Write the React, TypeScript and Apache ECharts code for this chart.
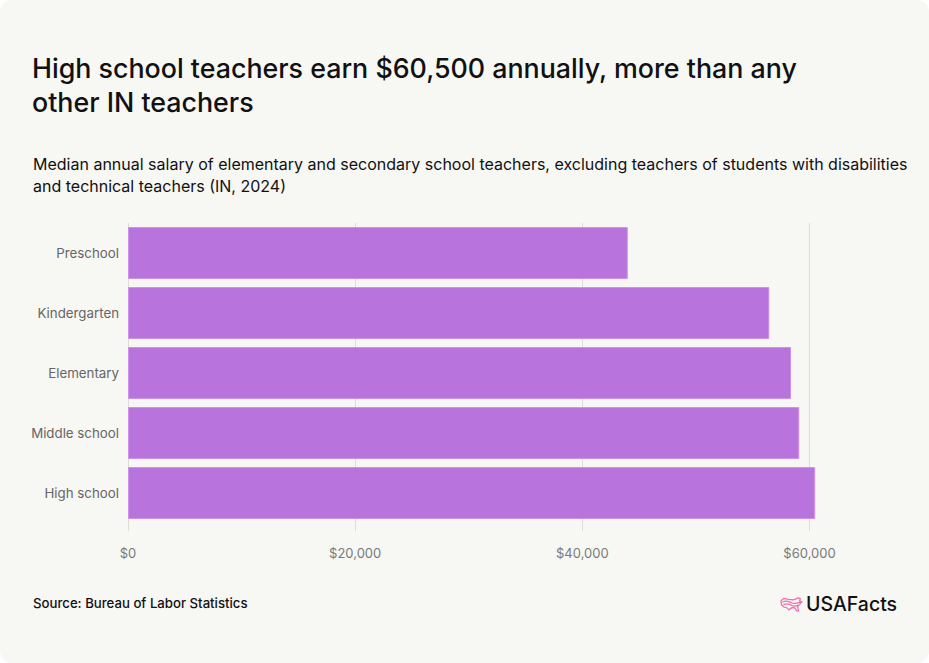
import React, { useEffect, useRef } from "react";
import * as echarts from "echarts";

const categories = ["Preschool", "Kindergarten", "Elementary", "Middle school", "High school"];
const salaries = [44000, 56460, 58370, 59100, 60500];
const xTicks = [0, 20000, 40000, 60000];

const TITLE = "High school teachers earn $60,500 annually, more than any\nother IN teachers";
const SUBTITLE =
  "Median annual salary of elementary and secondary school teachers, excluding teachers of students with disabilities\nand technical teachers (IN, 2024)";
const SOURCE = "Source: Bureau of Labor Statistics";

const LOGO_D =
  "M1 4 L4 1.5 L9 2.5 L14 3 L17 2 L19 0.8 L21.5 2 L20.5 4 L23 5 L20.5 8 L18.5 10 L19.5 14.5 L17.5 14.5 L15.5 11.5 L12.5 11.2 L9.5 13.5 L7.5 11.5 L4 10.5 L1.5 8 Z " +
  "M2.5 5.5 C6 3.5 9 4 12 6 C15 8 18 6 21.5 5.5 " +
  "M3.5 8.2 C7 6.5 10 7 12.5 9 C14.5 10.5 17 9.5 19.5 8.5";

echarts.graphic.registerShape("usaLogo", echarts.graphic.extendPath(LOGO_D, {}));

const fmt = (v: number) => "$" + v.toLocaleString("en-US");

export default function App() {
  const ref = useRef<HTMLDivElement>(null);
  useEffect(() => {
    document.body.style.margin = "0";
    const chart = echarts.init(ref.current!, null, { renderer: "svg" });
    const font = "Inter, 'Noto Sans', sans-serif";
    chart.setOption({
      animation: false,
      textStyle: { fontFamily: font },
      grid: { left: 128, top: 223, width: 681.5, height: 300, containLabel: false },
      xAxis: {
        type: "value",
        min: 0,
        max: 60000,
        interval: 20000,
        axisLine: { show: false },
        axisTick: { show: true, length: 8, lineStyle: { color: "#dcdcd8", width: 1 } },
        splitLine: { show: true, lineStyle: { color: "#dcdcd8", width: 1 } },
        axisLabel: {
          margin: 23,
          color: "#7a7a7a",
          fontSize: 13,
          fontFamily: font,
          formatter: (v: number) => (xTicks.includes(v) ? fmt(v) : ""),
        },
      },
      yAxis: {
        type: "category",
        data: categories,
        inverse: true,
        axisLine: { show: false },
        axisTick: { show: false },
        splitLine: { show: false },
        axisLabel: { margin: 9, color: "#666666", fontSize: 13.3, fontFamily: font },
      },
      series: [
        {
          type: "bar",
          data: salaries,
          barWidth: 52,
          clip: false,
          itemStyle: { color: "#b973dc", borderColor: "#cc92e8", borderWidth: 1 },
        },
      ],
      graphic: [
        {
          type: "text",
          left: 32,
          top: 51,
          style: {
            text: TITLE,
            font: `500 26.8px ${font}`,
            lineHeight: 34,
            fill: "#111111",
          },
        },
        {
          type: "text",
          left: 33,
          top: 153,
          style: {
            text: SUBTITLE,
            font: `400 16px ${font}`,
            lineHeight: 22,
            fill: "#111111",
          },
        },
        {
          type: "text",
          left: 33,
          top: 596,
          style: { text: SOURCE, font: `500 13.2px ${font}`, fill: "#111111" },
        },
        {
          type: "usaLogo",
          x: 780,
          y: 597,
          scaleX: 0.95,
          scaleY: 0.95,
          style: { fill: "none", stroke: "#ee6fb0", lineWidth: 1.3 },
        },
        {
          type: "text",
          left: 806,
          top: 594,
          style: { text: "USAFacts", font: `500 19.5px ${font}`, fill: "#111111" },
        },
      ],
    });
    return () => chart.dispose();
  }, []);
  return (
    <div
      style={{
        width: 929,
        height: 663,
        background: "#f7f7f3",
        borderRadius: 12,
        overflow: "hidden",
      }}
    >
      <div ref={ref} style={{ width: 929, height: 663 }} />
    </div>
  );
}
